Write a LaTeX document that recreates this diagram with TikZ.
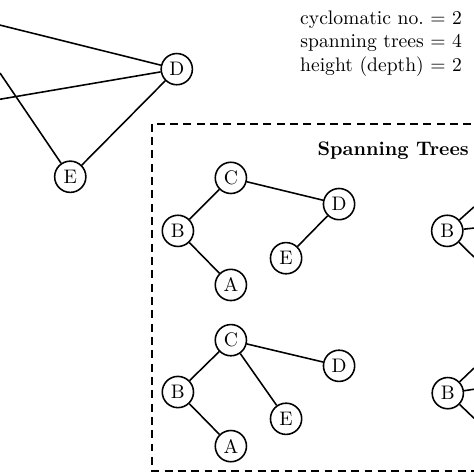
\documentclass[tikz,border=0pt]{standalone}
\usepackage{tikz}
\usetikzlibrary{positioning}
\usepackage{amsmath,amssymb}

\begin{document}
\begin{tikzpicture}[
  vertex/.style={circle, draw, line width=0.8pt, minimum size=0.56cm, inner sep=0pt, font=\normalsize},
  edge/.style={line width=0.8pt},
  treebox/.style={line width=0.8pt, dash pattern=on 4pt off 2.8pt}
]
  \useasboundingbox (0,0) rectangle (8.5,-8.5);
  \clip (0,0) rectangle (8.5,-8.5);

  % graph
  \node[vertex] (gD) at (3.17,-1.24) {D};
  \node[vertex] (gE) at (1.26,-3.17) {E};
  \coordinate (gL1) at (0,-0.45);
  \coordinate (gL2) at (0,-1.31);
  \coordinate (gL3) at (0,-1.78);
  \draw[edge] (gL1) -- (gD);
  \draw[edge] (gL3) -- (gD);
  \draw[edge] (gL2) -- (gE);
  \draw[edge] (gE) -- (gD);

  \node[anchor=east, align=right, inner sep=0pt] (stats) at (8.29,-0.78)
    {cyclomatic no.\ $=$ 2\\ spanning trees $=$ 4\\ height (depth) $=$ 2};

  % spanning trees
  \draw[treebox] (2.73,-2.22) rectangle (8.8,-8.45);
  \node[font=\bfseries] (title) at (7.05,-2.70) {Spanning Trees};

  \node[vertex] (aC) at (4.14,-3.19) {C};
  \node[vertex] (aB) at (3.19,-4.14) {B};
  \node[vertex] (aA) at (4.14,-5.11) {A};
  \node[vertex] (aD) at (6.08,-3.66) {D};
  \node[vertex] (aE) at (5.13,-4.63) {E};
  \draw[edge] (aC) -- (aB);
  \draw[edge] (aB) -- (aA);
  \draw[edge] (aC) -- (aD);
  \draw[edge] (aD) -- (aE);

  \node[vertex] (bC) at (4.14,-6.10) {C};
  \node[vertex] (bB) at (3.19,-7.03) {B};
  \node[vertex] (bA) at (4.14,-8.00) {A};
  \node[vertex] (bD) at (6.08,-6.56) {D};
  \node[vertex] (bE) at (5.13,-7.51) {E};
  \draw[edge] (bC) -- (bB);
  \draw[edge] (bB) -- (bA);
  \draw[edge] (bC) -- (bD);
  \draw[edge] (bC) -- (bE);

  \node[vertex] (cB) at (8.02,-4.14) {B};
  \coordinate (cR1) at (8.5,-3.71);
  \coordinate (cR2) at (8.5,-4.09);
  \coordinate (cR3) at (8.5,-4.61);
  \draw[edge] (cB) -- (cR1);
  \draw[edge] (cB) -- (cR2);
  \draw[edge] (cB) -- (cR3);

  \node[vertex] (dB) at (8.03,-7.05) {B};
  \coordinate (dR1) at (8.5,-6.60);
  \coordinate (dR2) at (8.5,-6.98);
  \coordinate (dR3) at (8.5,-7.50);
  \draw[edge] (dB) -- (dR1);
  \draw[edge] (dB) -- (dR2);
  \draw[edge] (dB) -- (dR3);
\end{tikzpicture}
\end{document}
